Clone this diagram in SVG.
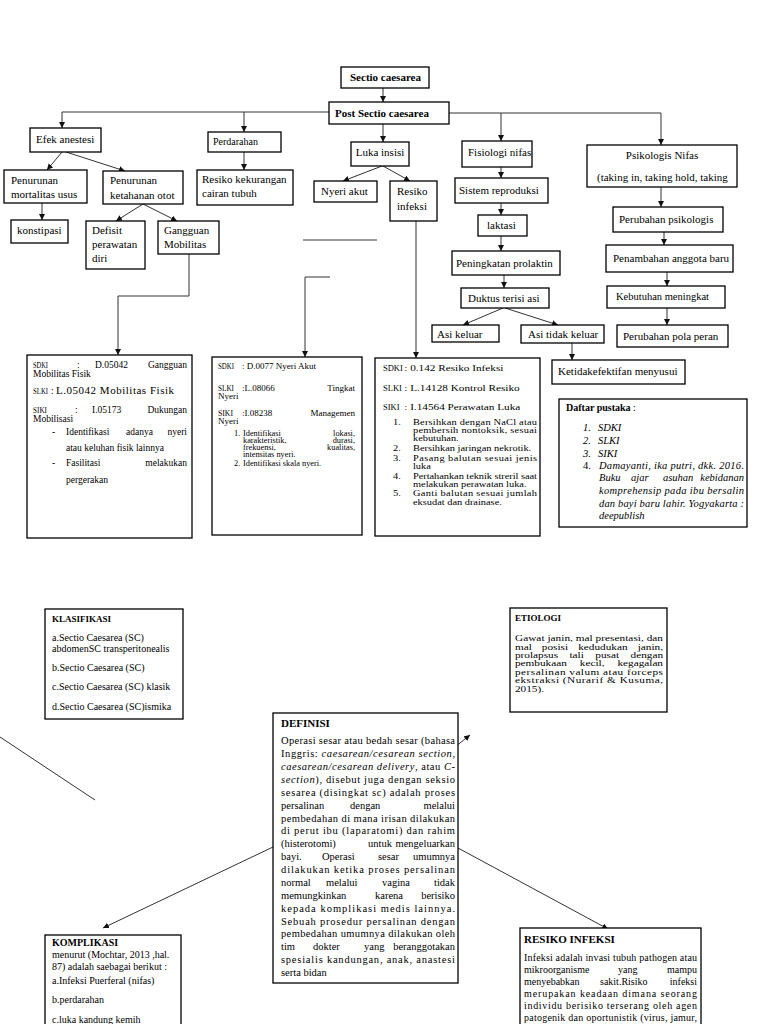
<svg xmlns="http://www.w3.org/2000/svg" width="768" height="1024" viewBox="0 0 768 1024">
<style>
.box{fill:#fff;stroke:#000;stroke-width:1.3}
text{font-family:"Liberation Serif",serif;fill:#000}
.t{font-size:11px}
.t2{font-size:10px}
.d{font-size:10.5px}
.m{font-size:9.5px}
.s{font-size:9px}
.xs{font-size:8.3px}
.k{font-size:8.5px}
.b{font-weight:bold}
.i{font-style:italic}
.e{text-anchor:end}
.c{text-anchor:middle}
.con{stroke:#333;stroke-width:1;fill:none}
.arr{marker-end:url(#ah)}
</style>
<defs>
<marker id="ah" markerUnits="userSpaceOnUse" markerWidth="7" markerHeight="7" refX="6" refY="3" orient="auto"><path d="M0,0 L6,3 L0,6 z" fill="#111"/></marker>
</defs>
<rect width="768" height="1024" fill="#fff"/>

<g id="connectors">
<line class="con arr" x1="383" y1="88" x2="383" y2="102"/>
<line class="con" x1="62" y1="112" x2="329" y2="112"/>
<line class="con" x1="449" y1="113" x2="661" y2="113"/>
<line class="con arr" x1="62" y1="112" x2="62" y2="128"/>
<line class="con arr" x1="244" y1="112" x2="244" y2="132"/>
<line class="con arr" x1="501" y1="113" x2="501" y2="141"/>
<line class="con arr" x1="661" y1="113" x2="661" y2="145"/>
<line class="con arr" x1="383" y1="124" x2="383" y2="142"/>
<line class="con arr" x1="62" y1="152" x2="47" y2="170"/>
<line class="con arr" x1="66" y1="152" x2="125" y2="171"/>
<line class="con arr" x1="244" y1="152" x2="244" y2="170"/>
<line class="con arr" x1="42" y1="203" x2="42" y2="220"/>
<line class="con arr" x1="143" y1="204" x2="116" y2="221"/>
<line class="con arr" x1="143" y1="204" x2="177" y2="221"/>
<polyline class="con arr" points="189,254 189,296 118,296 118,355"/>
<line class="con arr" x1="382" y1="166" x2="343" y2="181"/>
<line class="con arr" x1="383" y1="166" x2="410" y2="181"/>
<line class="con" x1="303" y1="240" x2="377" y2="240"/>
<polyline class="con arr" points="330,277 305,277 305,357"/>
<line class="con arr" x1="416" y1="221" x2="416" y2="358"/>
<line class="con arr" x1="501" y1="167" x2="501" y2="178"/>
<line class="con arr" x1="501" y1="203" x2="501" y2="215"/>
<line class="con arr" x1="501" y1="236" x2="501" y2="251"/>
<line class="con arr" x1="504" y1="275" x2="504" y2="288"/>
<line class="con arr" x1="503" y1="308" x2="463" y2="325"/>
<line class="con arr" x1="505" y1="308" x2="558" y2="325"/>
<line class="con arr" x1="572" y1="343" x2="572" y2="360"/>
<line class="con arr" x1="661" y1="187" x2="661" y2="207"/>
<line class="con arr" x1="664" y1="232" x2="664" y2="245"/>
<line class="con arr" x1="667" y1="272" x2="667" y2="286"/>
<line class="con arr" x1="667" y1="308" x2="667" y2="325"/>
<line class="con" x1="0" y1="737" x2="95" y2="800"/>
<line class="con arr" x1="273" y1="847" x2="103" y2="928"/>
<line class="con arr" x1="458" y1="848" x2="608" y2="929"/>
<line class="con arr" x1="332" y1="845" x2="470" y2="735"/>
</g>

<g id="sectio"><rect class="box" x="341" y="67" width="88" height="21"/><text class="t b" x="350" y="81">Sectio caesarea</text></g>
<g id="post"><rect class="box" x="329" y="102" width="120" height="22"/><text class="t b" x="335" y="117">Post Sectio caesarea</text></g>
<g id="efek"><rect class="box" x="30" y="128" width="71" height="24"/><text class="t" x="36" y="143">Efek anestesi</text></g>
<g id="perdarahan"><rect class="box" x="208" y="132" width="73" height="20"/><text class="t2" x="213" y="145">Perdarahan</text></g>
<g id="resiko-cairan"><rect class="box" x="197" y="170" width="96" height="35"/><text class="t" x="202" y="183">Resiko kekurangan</text><text class="t" x="202" y="197">cairan tubuh</text></g>
<g id="pen-mortalitas"><rect class="box" x="4" y="170" width="83" height="33"/><text class="t" x="11" y="184">Penurunan</text><text class="t" x="11" y="198">mortalitas usus</text></g>
<g id="pen-ketahanan"><rect class="box" x="103" y="171" width="80" height="33"/><text class="t" x="110" y="184">Penurunan</text><text class="t" x="110" y="199">ketahanan otot</text></g>
<g id="konstipasi"><rect class="box" x="11" y="220" width="57" height="23"/><text class="t" x="17" y="234">konstipasi</text></g>
<g id="defisit"><rect class="box" x="86" y="221" width="59" height="48"/><text class="t" x="92" y="234">Defisit</text><text class="t" x="92" y="248">perawatan</text><text class="t" x="92" y="262">diri</text></g>
<g id="gangguan"><rect class="box" x="158" y="221" width="61" height="33"/><text class="t" x="164" y="234">Gangguan</text><text class="t" x="164" y="248">Mobilitas</text></g>
<g id="luka"><rect class="box" x="351" y="142" width="58" height="24"/><text class="t c" x="380" y="156">Luka insisi</text></g>
<g id="nyeri"><rect class="box" x="314" y="181" width="63" height="21"/><text class="t" x="321" y="195">Nyeri akut</text></g>
<g id="resiko-infeksi-node"><rect class="box" x="390" y="181" width="47" height="40"/><text class="t" x="397" y="195">Resiko</text><text class="t" x="397" y="210">infeksi</text></g>
<g id="fisiologi"><rect class="box" x="462" y="141" width="70" height="26"/><text class="t" x="468" y="156">Fisiologi nifas</text></g>
<g id="sistem"><rect class="box" x="455" y="178" width="93" height="25"/><text class="t" x="459" y="194">Sistem reproduksi</text></g>
<g id="laktasi"><rect class="box" x="478" y="215" width="49" height="21"/><text class="t" x="487" y="229">laktasi</text></g>
<g id="prolaktin"><rect class="box" x="452" y="251" width="108" height="24"/><text class="t" x="456" y="267">Peningkatan prolaktin</text></g>
<g id="duktus"><rect class="box" x="461" y="288" width="88" height="20"/><text class="t" x="468" y="302">Duktus terisi asi</text></g>
<g id="asi-keluar"><rect class="box" x="432" y="325" width="67" height="17"/><text class="t" x="437" y="338">Asi keluar</text></g>
<g id="asi-tidak"><rect class="box" x="521" y="325" width="83" height="18"/><text class="t" x="528" y="338">Asi tidak keluar</text></g>
<g id="ketidak"><rect class="box" x="552" y="360" width="133" height="24"/><text class="t" x="558" y="375">Ketidakefektifan menyusui</text></g>
<g id="psikologis"><rect class="box" x="587" y="145" width="150" height="42"/><text class="t c" x="662" y="159">Psikologis Nifas</text><text class="t" x="597" y="181">(taking in, taking hold, taking</text></g>
<g id="perubahan-psi"><rect class="box" x="613" y="207" width="110" height="25"/><text class="t" x="619" y="223">Perubahan psikologis</text></g>
<g id="penambahan"><rect class="box" x="606" y="245" width="127" height="27"/><text class="t" x="613" y="262">Penambahan anggota baru</text></g>
<g id="kebutuhan"><rect class="box" x="607" y="286" width="118" height="22"/><text class="d" x="616" y="300">Kebutuhan meningkat</text></g>
<g id="pola"><rect class="box" x="617" y="325" width="111" height="22"/><text class="t" x="623" y="340">Perubahan pola peran</text></g>

<g id="sdki-mobilitas"><rect class="box" x="27" y="355" width="165" height="183"/>
<text class="k" x="33" y="368" textLength="15" lengthAdjust="spacingAndGlyphs">SDKI</text><text class="m" x="77" y="368">:</text><text class="m" x="95" y="368">D.05042</text><text class="m e" x="187" y="368">Gangguan</text>
<text class="m" x="33" y="377">Mobilitas Fisik</text>
<text class="k" x="33" y="394" textLength="15" lengthAdjust="spacingAndGlyphs">SLKI</text><text class="m" x="51" y="394">:</text><text class="t" x="56" y="394" textLength="118" lengthAdjust="spacing">L.05042 Mobilitas Fisik</text>
<text class="k" x="33" y="413" textLength="14" lengthAdjust="spacingAndGlyphs">SIKI</text><text class="m" x="75" y="413">:</text><text class="m" x="92" y="413">I.05173</text><text class="m e" x="187" y="413">Dukungan</text>
<text class="m" x="33" y="422">Mobilisasi</text>
<text class="m" x="52" y="435">-</text><text class="m" x="66" y="435">Identifikasi</text><text class="m" x="126" y="435">adanya</text><text class="m e" x="187" y="435">nyeri</text>
<text class="m" x="66" y="451">atau keluhan fisik lainnya</text>
<text class="m" x="52" y="466">-</text><text class="m" x="66" y="466">Fasilitasi</text><text class="m e" x="187" y="466">melakukan</text>
<text class="m" x="66" y="483">pergerakan</text>
</g>

<g id="sdki-nyeri"><rect class="box" x="212" y="357" width="150" height="178"/>
<text class="k" x="218" y="369" textLength="16" lengthAdjust="spacingAndGlyphs">SDKI</text><text class="s" x="242" y="369">: D.0077 Nyeri Akut</text>
<text class="k" x="218" y="391" textLength="16" lengthAdjust="spacingAndGlyphs">SLKI</text><text class="s" x="242" y="391">:L.08066</text><text class="s e" x="355" y="391">Tingkat</text>
<text class="s" x="218" y="399">Nyeri</text>
<text class="k" x="218" y="416" textLength="15" lengthAdjust="spacingAndGlyphs">SIKI</text><text class="s" x="242" y="416">:I.08238</text><text class="s e" x="355" y="416">Managemen</text>
<text class="s" x="218" y="424">Nyeri</text>
<text class="xs" x="234" y="436">1.</text><text class="xs" x="243" y="436">Identifikasi</text><text class="xs e" x="355" y="436">lokasi,</text>
<text class="xs" x="243" y="443">karakteristik,</text><text class="xs e" x="355" y="443">durasi,</text>
<text class="xs" x="243" y="450">frekuensi,</text><text class="xs e" x="355" y="450">kualitas,</text>
<text class="xs" x="243" y="457">intensitas nyeri.</text>
<text class="xs" x="234" y="466">2.</text><text class="xs" x="243" y="466">Identifikasi skala nyeri.</text>
</g>

<g id="sdki-infeksi"><rect class="box" x="375" y="358" width="165" height="178"/>
<text class="k" x="383" y="371">SDKI</text>
<text class="k" x="383" y="391">SLKI</text>
<text class="k" x="383" y="410">SIKI</text>
<g transform="translate(383 0) scale(1.25 1)">
<text class="s" x="17" y="371">: 0.142 Resiko Infeksi</text>
<text class="s" x="17" y="391">: L.14128 Kontrol Resiko</text>
<text class="s" x="17" y="410">: I.14564 Perawatan Luka</text>
<text class="xs" x="8" y="425">1.</text><text class="xs" x="24" y="425" textLength="99.2" lengthAdjust="spacing">Bersihkan dengan NaCl atau</text>
<text class="xs" x="24" y="433" textLength="99.2" lengthAdjust="spacing">pembersih nontoksik, sesuai</text>
<text class="xs" x="24" y="441">kebutuhan.</text>
<text class="xs" x="8" y="451">2.</text><text class="xs" x="24" y="451">Bersihkan jaringan nekrotik.</text>
<text class="xs" x="8" y="461">3.</text><text class="xs" x="24" y="461" textLength="99.2" lengthAdjust="spacing">Pasang balutan sesuai jenis</text>
<text class="xs" x="24" y="469">luka</text>
<text class="xs" x="8" y="479">4.</text><text class="xs" x="24" y="479" textLength="99.2" lengthAdjust="spacing">Pertahankan teknik streril saat</text>
<text class="xs" x="24" y="487">melakukan perawatan luka.</text>
<text class="xs" x="8" y="496">5.</text><text class="xs" x="24" y="496" textLength="99.2" lengthAdjust="spacing">Ganti balutan sesuai jumlah</text>
<text class="xs" x="24" y="505">eksudat dan drainase.</text>
</g>
</g>

<g id="daftar-pustaka"><rect class="box" x="559" y="399" width="188" height="128"/>
<text class="t2" x="566" y="411"><tspan class="b">Daftar pustaka</tspan> :</text>
<text class="d i" x="583" y="431">1.</text><text class="d i" x="598" y="431">SDKI</text>
<text class="d i" x="583" y="444">2.</text><text class="d i" x="598" y="444">SLKI</text>
<text class="d i" x="583" y="457">3.</text><text class="d i" x="598" y="457">SIKI</text>
<text class="d" x="583" y="469">4.</text><text class="d i" x="599" y="469" textLength="145" lengthAdjust="spacing">Damayanti, ika putri, dkk. 2016.</text>
<text class="d i" x="599" y="481">Buku</text><text class="d i" x="631" y="481">ajar</text><text class="d i" x="663" y="481">asuhan</text><text class="d i e" x="744" y="481">kebidanan</text>
<text class="d i" x="599" y="494" textLength="145" lengthAdjust="spacing">komprehensip pada ibu bersalin</text>
<text class="d i" x="599" y="507" textLength="145" lengthAdjust="spacing">dan bayi baru lahir. Yogyakarta :</text>
<text class="d i" x="599" y="519">deepublish</text>
</g>

<g id="klasifikasi"><rect class="box" x="45" y="609" width="138" height="110"/>
<text class="s b" x="52" y="622">KLASIFIKASI</text>
<text class="t2" x="52" y="641">a.Sectio Caesarea (SC)</text>
<text class="t2" x="52" y="652">abdomenSC transperitonealis</text>
<text class="t2" x="52" y="671">b.Sectio Caesarea (SC)</text>
<text class="t2" x="52" y="690">c.Sectio Caesarea (SC) klasik</text>
<text class="t2" x="52" y="710">d.Sectio Caesarea (SC)ismika</text>
</g>

<g id="etiologi"><rect class="box" x="510" y="608" width="157" height="104"/>
<text class="s b" x="515" y="621">ETIOLOGI</text>
<g transform="translate(515 0) scale(1.25 1)">
<text class="s" x="0" y="641" textLength="118.4" lengthAdjust="spacing">Gawat janin, mal presentasi, dan</text>
<text class="s" x="0" y="650">mal</text><text class="s" x="21.5" y="650">posisi</text><text class="s" x="50.6" y="650">kedudukan</text><text class="s e" x="118.4" y="650">janin,</text>
<text class="s" x="0" y="658">prolapsus</text><text class="s" x="43.6" y="658">tali</text><text class="s" x="64.3" y="658">pusat</text><text class="s e" x="118.4" y="658">dengan</text>
<text class="s" x="0" y="666">pembukaan</text><text class="s" x="51.9" y="666">kecil,</text><text class="s e" x="118.4" y="666">kegagalan</text>
<text class="s" x="0" y="675" textLength="118.4" lengthAdjust="spacing">persalinan valum atau forceps</text>
<text class="s" x="0" y="683" textLength="118.4" lengthAdjust="spacing">ekstraksi (Nurarif &amp; Kusuma,</text>
<text class="s" x="0" y="692">2015).</text>
</g>
</g>

<g id="definisi"><rect class="box" x="273" y="713" width="185" height="270"/>
<text class="t b" x="281" y="727">DEFINISI</text>
<text class="d" x="281" y="744" textLength="174" lengthAdjust="spacing">Operasi sesar atau bedah sesar (bahasa</text>
<text class="d" x="281" y="757" textLength="174" lengthAdjust="spacing">Inggris: <tspan class="i">caesarean/cesarean section</tspan>,</text>
<text class="d" x="281" y="770" textLength="174" lengthAdjust="spacing"><tspan class="i">caesarean/cesarean delivery</tspan>, atau <tspan class="i">C-</tspan></text>
<text class="d" x="281" y="783" textLength="174" lengthAdjust="spacing"><tspan class="i">section</tspan>), disebut juga dengan seksio</text>
<text class="d" x="281" y="796" textLength="174" lengthAdjust="spacing">sesarea (disingkat sc) adalah proses</text>
<text class="d" x="281" y="809">persalinan</text><text class="d" x="350" y="809">dengan</text><text class="d e" x="455" y="809">melalui</text>
<text class="d" x="281" y="822" textLength="174" lengthAdjust="spacing">pembedahan di mana irisan dilakukan</text>
<text class="d" x="281" y="834" textLength="174" lengthAdjust="spacing">di perut ibu (laparatomi) dan rahim</text>
<text class="d" x="281" y="847">(histerotomi)</text><text class="d" x="368" y="847">untuk</text><text class="d e" x="455" y="847">mengeluarkan</text>
<text class="d" x="281" y="860">bayi.</text><text class="d" x="322" y="860">Operasi</text><text class="d" x="378" y="860">sesar</text><text class="d e" x="455" y="860">umumnya</text>
<text class="d" x="281" y="873" textLength="174" lengthAdjust="spacing">dilakukan ketika proses persalinan</text>
<text class="d" x="281" y="886">normal</text><text class="d" x="326" y="886">melalui</text><text class="d" x="382" y="886">vagina</text><text class="d e" x="455" y="886">tidak</text>
<text class="d" x="281" y="899">memungkinkan</text><text class="d" x="375" y="899">karena</text><text class="d e" x="455" y="899">berisiko</text>
<text class="d" x="281" y="912" textLength="174" lengthAdjust="spacing">kepada komplikasi medis lainnya.</text>
<text class="d" x="281" y="925" textLength="174" lengthAdjust="spacing">Sebuah prosedur persalinan dengan</text>
<text class="d" x="281" y="937" textLength="174" lengthAdjust="spacing">pembedahan umumnya dilakukan oleh</text>
<text class="d" x="281" y="950">tim</text><text class="d" x="313" y="950">dokter</text><text class="d" x="364" y="950">yang</text><text class="d e" x="455" y="950">beranggotakan</text>
<text class="d" x="281" y="963" textLength="174" lengthAdjust="spacing">spesialis kandungan, anak, anastesi</text>
<text class="d" x="281" y="976">serta bidan</text>
</g>

<g id="komplikasi"><rect class="box" x="45" y="935" width="136" height="95"/>
<text class="t2 b" x="52" y="946">KOMPLIKASI</text>
<text class="t2" x="52" y="958">menurut (Mochtar, 2013 ,hal.</text>
<text class="t2" x="52" y="970">87) adalah saebagai berikut :</text>
<text class="t2" x="52" y="984">a.Infeksi Puerferal (nifas)</text>
<text class="t2" x="52" y="1003">b.perdarahan</text>
<text class="t2" x="52" y="1023">c.luka kandung kemih</text>
</g>

<g id="resiko-infeksi"><rect class="box" x="520" y="928" width="181" height="102"/>
<text class="t b" x="524" y="943">RESIKO INFEKSI</text>
<text class="t2" x="524" y="961" textLength="173" lengthAdjust="spacing">Infeksi adalah invasi tubuh pathogen atau</text>
<text class="t2" x="524" y="973">mikroorganisme</text><text class="t2" x="618" y="973">yang</text><text class="t2 e" x="697" y="973">mampu</text>
<text class="t2" x="524" y="985">menyebabkan</text><text class="t2" x="600" y="985">sakit.Risiko</text><text class="t2 e" x="697" y="985">infeksi</text>
<text class="t2" x="524" y="997" textLength="173" lengthAdjust="spacing">merupakan keadaan dimana seorang</text>
<text class="t2" x="524" y="1009" textLength="173" lengthAdjust="spacing">individu berisiko terserang oleh agen</text>
<text class="t2" x="524" y="1021" textLength="173" lengthAdjust="spacing">patogenik dan oportunistik (virus, jamur,</text>
</g>
</svg>
